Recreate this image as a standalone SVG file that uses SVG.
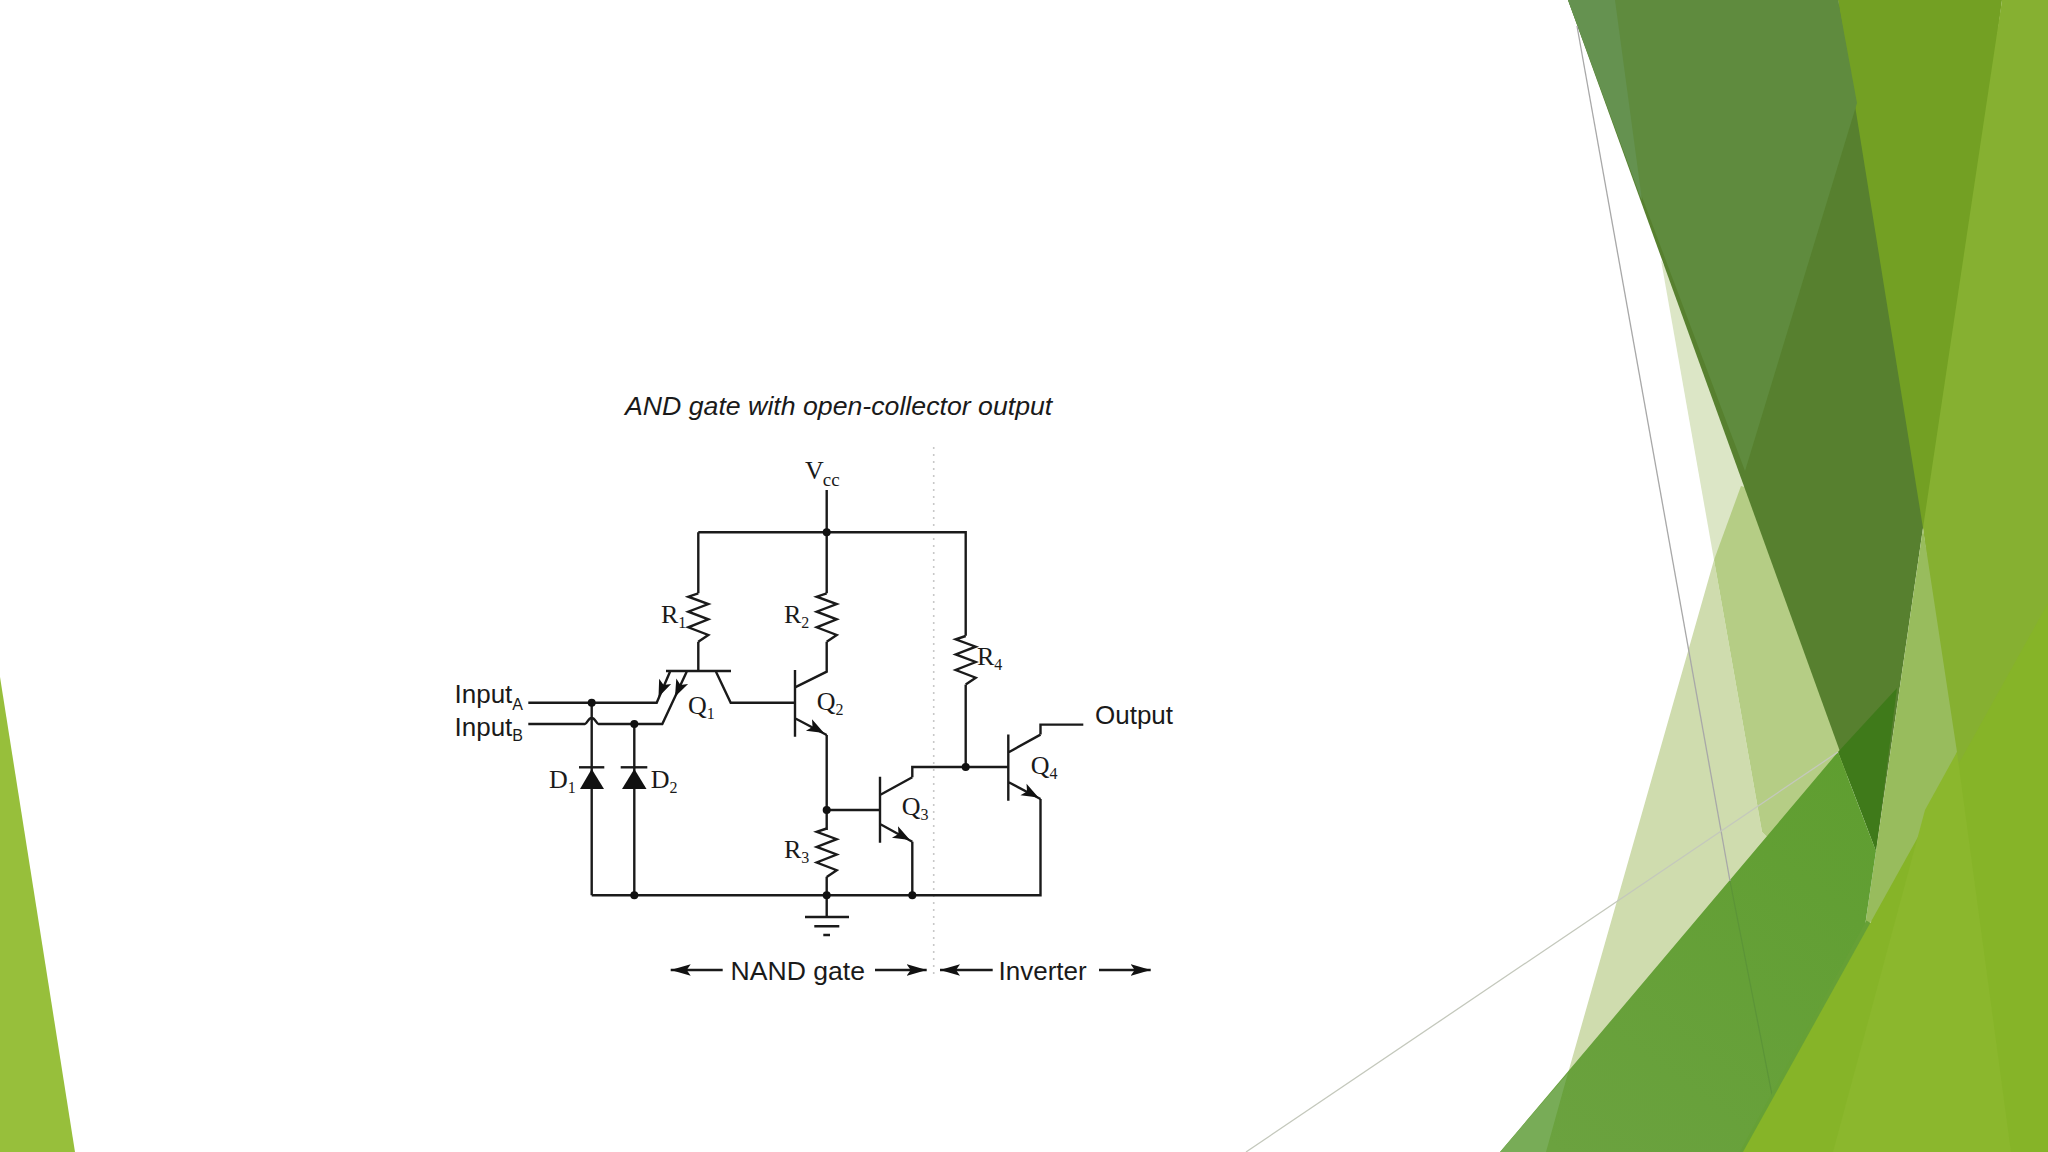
<svg xmlns="http://www.w3.org/2000/svg" width="2048" height="1152" viewBox="0 0 2048 1152">
<style>
.w{fill:none;stroke:#1a1a1a;stroke-width:2.4;stroke-linejoin:miter}
.dot{fill:#111}
.ah{fill:#111}
.s{font-family:"Liberation Serif","Times New Roman",serif;font-size:26px;fill:#1a1a1a}
.a{font-family:"Liberation Sans",Arial,sans-serif;font-size:26px;fill:#1a1a1a}
.sub{font-size:16px}
.cc{font-size:19px}
.n{font-size:26.6px}
.t{font-style:italic;font-size:26.7px}
</style>
<defs>
<marker id="head" markerUnits="userSpaceOnUse" markerWidth="22" markerHeight="14" refX="20" refY="7" orient="auto"><path d="M20 7L0 1.2L4 7L0 12.8Z" fill="#111"/></marker>
<path id="arr" d="M0 0L-17 -6.5L-13 0L-17 6.5Z"/>
<path id="res" class="w" d="M0 0L-10 3.4L10 10.7L-10 18.4L10 26L-10 34L10 41.7L0 48.4"/>
<linearGradient id="mid" gradientUnits="userSpaceOnUse" x1="1850" y1="760" x2="1560" y2="1152"><stop offset="0" stop-color="#5F9E30"/><stop offset="1" stop-color="#6BA23F"/></linearGradient>
</defs>
<rect width="2048" height="1152" fill="#fff"/>
<g id="background">
<polygon points="0,677 0,1152 75,1152" fill="#97BF3B"/>
<polygon points="1661,260 1720,360 1760,486 1714,560" fill="#DCE6C6"/>
<polygon points="1714,560 1762,832 1780,850 1600,1090 1568,1073" fill="#CFDCAE"/>
<polygon points="1741,486 1790,500 1860,760 1780,850 1762,832 1714,560" fill="#B5CD85"/>
<polygon points="1838,0 2002,0 1935,528 1900,528" fill="#73A023"/>
<polygon points="1568,0 1838,0 1923,528 1876,851" fill="#57802F"/>
<polygon points="1568,0 1838,0 1857,103 1745,471" fill="#5F8B3E"/>
<polygon points="1568,0 1615,0 1642,200 1640,196" fill="#659250"/>
<polygon points="1838,752 1897,688 1876,851" fill="#3F7A1A"/>
<polygon points="2002,0 2048,0 2048,700 1957,800 1923,528" fill="#86B031"/>
<polygon points="1923,528 1957,752 1900,900 1865,926 1876,851" fill="#98BC5D"/>
<polygon points="1838,752 1876,851 1865,926 1800,1060 1760,1152 1500,1152" fill="url(#mid)"/>
<polygon points="1500,1152 1546,1152 1568,1073" fill="#78AC57"/>
<line x1="1577" y1="26" x2="1730" y2="881" stroke="#a8a8a8" stroke-width="1.3"/>
<line x1="1730" y1="881" x2="1775" y2="1110" stroke="#5c9438" stroke-width="1.2"/>
<line x1="1869" y1="922" x2="1741" y2="1156" stroke="#66A036" stroke-width="6"/>
<polygon points="2048,603 2048,1152 1743,1152" fill="#86B428"/>
<polygon points="1957,752 2011,1152 1833,1152 1925,810" fill="#8BB72D"/>
<line x1="1838" y1="752" x2="1246" y2="1152" stroke="#c4c8bc" stroke-width="1.3"/>
</g>
<line id="divider" x1="933.7" y1="447" x2="933.7" y2="978" stroke="#c8c8c8" stroke-width="1.6" stroke-dasharray="2 5"/>
<text id="title" class="a t" x="625" y="415">AND gate with open-collector output</text>
<g id="connectors">
<path class="w" d="M826.7 490V593.3M698.3 532.3H965.7V635.7M698.3 532.3V593.3M698.3 641.7V671"/>
<path class="w" d="M826.7 641.7V671.7L795 687.3"/>
<path class="w" d="M826.7 735V830M826.7 876.7V917"/>
<path class="w" d="M591.7 895.3H1040.5V799"/>
<path class="w" d="M528.3 702.7H656.7L670 671.7"/>
<path class="w" d="M528.3 724H585C587 724 588 718 591.7 718C595.4 718 596.4 724 598.4 724H662.3L686.7 671.7"/>
<path class="w" d="M716 671.7L730.7 702.7H795"/>
<path class="w" d="M826.7 810H880"/>
<path class="w" d="M912.3 777.3V767H1008.3"/>
<path class="w" d="M912.3 841.7V895.3"/>
<path class="w" d="M965.7 684.6V767"/>
<path class="w" d="M1040.5 734.6V724.6H1083.3"/>
<path class="w" d="M591.7 702.7V895.3M634.3 724V895.3"/>
<line class="w" x1="722.7" y1="970" x2="670.7" y2="970" marker-end="url(#head)"/>
<line class="w" x1="875" y1="970" x2="926.7" y2="970" marker-end="url(#head)"/>
<line class="w" x1="992.7" y1="970" x2="940" y2="970" marker-end="url(#head)"/>
<line class="w" x1="1099" y1="970" x2="1150.7" y2="970" marker-end="url(#head)"/>
</g>
<g id="junctions" class="dot">
<circle cx="826.7" cy="532.3" r="4"/><circle cx="591.7" cy="702.7" r="4"/><circle cx="634.3" cy="724" r="4"/><circle cx="826.7" cy="810" r="4"/><circle cx="965.7" cy="767" r="4"/><circle cx="634.3" cy="895.3" r="4"/><circle cx="826.7" cy="895.3" r="4"/><circle cx="912.3" cy="895.3" r="4"/>
</g>
<g id="R1"><use href="#res" x="698.3" y="593.3"/><text class="s" x="661" y="623">R<tspan class="sub" dy="5">1</tspan></text></g>
<g id="R2"><use href="#res" x="826.7" y="593.3"/><text class="s" x="784" y="623">R<tspan class="sub" dy="5">2</tspan></text></g>
<g id="R3"><use href="#res" x="826.7" y="828.5"/><text class="s" x="784" y="858">R<tspan class="sub" dy="5">3</tspan></text></g>
<g id="R4"><use href="#res" x="965.7" y="636"/><text class="s" x="977" y="665">R<tspan class="sub" dy="5">4</tspan></text></g>
<g id="Q1"><path class="w" d="M666 671H731"/><use class="ah" href="#arr" transform="translate(658.5 697) rotate(113)"/><use class="ah" href="#arr" transform="translate(675 696.7) rotate(115)"/><text class="s" x="688" y="714">Q<tspan class="sub" dy="5">1</tspan></text></g>
<g id="Q2"><path class="w" d="M795 670V736.7M795 718.3L826.7 735"/><use class="ah" href="#arr" transform="translate(824 733) rotate(28)"/><text class="s" x="816.7" y="710">Q<tspan class="sub" dy="5">2</tspan></text></g>
<g id="Q3"><path class="w" d="M880 776.7V842.7M880 795L912.3 777.3M880 824L912.3 841.7"/><use class="ah" href="#arr" transform="translate(910 840) rotate(28)"/><text class="s" x="901.7" y="815">Q<tspan class="sub" dy="5">3</tspan></text></g>
<g id="Q4"><path class="w" d="M1008.3 734.6V800.7M1008.3 752.5L1040.5 734.6M1008.3 782L1040.5 799"/><use class="ah" href="#arr" transform="translate(1038.5 797.5) rotate(28)"/><text class="s" x="1030.7" y="774">Q<tspan class="sub" dy="5">4</tspan></text></g>
<g id="D1"><path class="w" d="M579 767.3H604.3"/><polygon class="ah" points="591.7,769 580,789 604,789"/><text class="s" x="549" y="788">D<tspan class="sub" dy="5">1</tspan></text></g>
<g id="D2"><path class="w" d="M620.7 767.3H647.3"/><polygon class="ah" points="634.3,769 622,789 646.5,789"/><text class="s" x="650.7" y="788">D<tspan class="sub" dy="5">2</tspan></text></g>
<g id="GND"><path class="w" d="M805 917H849M814.3 926.3H839.3M823.3 935H830"/></g>
<g id="VCC"><text class="s" x="805" y="479">V<tspan class="cc" dy="7" dx="-1">cc</tspan></text></g>
<g id="InputA"><text class="a" x="454.5" y="703">Input<tspan class="sub" dy="7">A</tspan></text></g>
<g id="InputB"><text class="a" x="454.5" y="736">Input<tspan class="sub" dy="5">B</tspan></text></g>
<g id="Output"><text class="a" x="1095" y="724">Output</text></g>
<g id="NAND"><text class="a n" x="730.5" y="980">NAND gate</text></g>
<g id="Inverter"><text class="a" x="998.5" y="980">Inverter</text></g>
</svg>
